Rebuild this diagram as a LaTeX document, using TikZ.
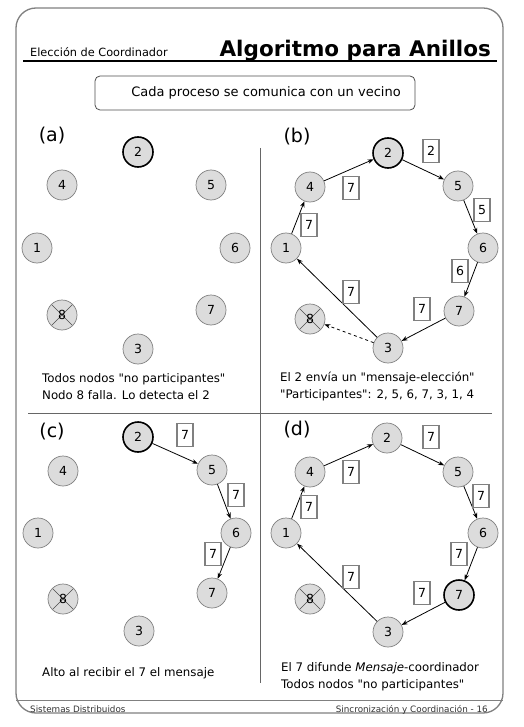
\documentclass[tikz,border=0pt]{standalone}
\usepackage{fontspec}
\setmainfont{DejaVu Sans}[Ligatures=TeXOff]
\usetikzlibrary{arrows.meta}
\definecolor{nodegray}{HTML}{DCDCDC}
\definecolor{framegray}{HTML}{808080}
\tikzset{
  proc/.style={circle, fill=nodegray, draw=framegray, line width=0.7pt, minimum size=30pt, inner sep=0pt, font=\fontsize{12.5}{12.5}\selectfont},
  lead/.style={proc, draw=black, line width=1.6pt},
  dead/.style={proc, path picture={\draw[black!70, line width=0.6pt]
      (path picture bounding box.north west) -- (path picture bounding box.south east)
      (path picture bounding box.north east) -- (path picture bounding box.south west);}},
  msg/.style={draw=framegray, line width=1.3pt, fill=white, minimum width=16pt, minimum height=23pt, inner sep=0pt, font=\fontsize{12.5}{12.5}\selectfont},
  link/.style={-{Stealth[length=6pt,width=4.5pt]}, line width=0.8pt},
  panellabel/.style={font=\fontsize{19}{19}\selectfont},
  caption/.style={anchor=west, font=\fontsize{11.8}{11.8}\selectfont, inner sep=0pt},
}
\begin{document}
\begin{tikzpicture}[x=1pt,y=-1pt]
\useasboundingbox (0,0) rectangle (523,727);
% frame
\draw[framegray, line width=1.3pt, rounded corners=20pt] (16,8) rectangle (503,713);
\draw[black, line width=1.3pt] (23,61) -- (497,61);
\draw[framegray, line width=1pt] (16,700) -- (503,700);
\node[anchor=base west, inner sep=0pt, font=\fontsize{11.3}{11.3}\selectfont] (hdr) at (30,57) {Elección de Coordinador};
\node[anchor=base east, inner sep=0pt, font=\fontsize{21.5}{21.5}\selectfont\bfseries] (title) at (491,57) {Algoritmo para Anillos};
\node[draw=black!70, line width=0.8pt, rounded corners=5pt, minimum width=320pt, minimum height=34pt, font=\fontsize{13}{13}\selectfont] (sub) at (255,93) {\hspace*{22pt}Cada proceso se comunica con un vecino};
\node[anchor=base west, inner sep=0pt, font=\fontsize{8.8}{8.8}\selectfont, text=black!80] (fl) at (30,712) {Sistemas Distribuidos};
\node[anchor=base east, inner sep=0pt, font=\fontsize{8.8}{8.8}\selectfont, text=black!80] (fr) at (488,712) {Sincronización y Coordinación - 16};
% dividers
\draw[black!60, line width=0.8pt] (260,148) -- (260,683);
\draw[black!60, line width=0.8pt] (28,413) -- (492,413);

% ---------- panel (a)
\node[panellabel] (la) at (52,136) {(a)};
\node[lead] (a2) at (138,152) {2};
\node[proc] (a4) at (62,185) {4};
\node[proc] (a5) at (211,185) {5};
\node[proc] (a1) at (37,248) {1};
\node[proc] (a6) at (235,248) {6};
\node[dead] (a8) at (62,315) {8};
\node[proc] (a7) at (211,310) {7};
\node[proc] (a3) at (138,349) {3};
\node[caption] (ta1) at (42,379) {Todos nodos "no participantes"};
\node[caption] (ta2) at (42,395) {Nodo 8 falla. Lo detecta el 2};

% ---------- panel (b)
\node[panellabel] (lb) at (297,137) {(b)};
\node[lead] (b2) at (388,153) {2};
\node[proc] (b4) at (310,187) {4};
\node[proc] (b5) at (458,186) {5};
\node[proc] (b1) at (286,248) {1};
\node[proc] (b6) at (483,248) {6};
\node[dead] (b8) at (310,319) {8};
\node[proc] (b7) at (459,311) {7};
\node[proc] (b3) at (388,348) {3};
\draw[link] (b4) -- (b2);
\draw[link] (b2) -- (b5);
\draw[link] (b5) -- (b6);
\draw[link] (b6) -- (b7);
\draw[link] (b7) -- (b3);
\draw[link] (b3) -- (b1);
\draw[link] (b1) -- (b4);
\draw[link, dashed] (b3) -- (b8);
\node[msg] (mb1) at (431,151) {2};
\node[msg] (mb2) at (351,188) {7};
\node[msg] (mb3) at (482,210) {5};
\node[msg] (mb4) at (309,225) {7};
\node[msg] (mb5) at (460,271) {6};
\node[msg] (mb6) at (351,292) {7};
\node[msg] (mb7) at (422,309) {7};
\node[caption] (tb1) at (280,378) {El 2 envía un "mensaje-elección"};
\node[caption] (tb2) at (280,395) {"Participantes": 2, 5, 6, 7, 3, 1, 4};

% ---------- panel (c)
\node[panellabel] (lc) at (52,432) {(c)};
\node[lead] (c2) at (138,437) {2};
\node[proc] (c4) at (63,471) {4};
\node[proc] (c5) at (212,470) {5};
\node[proc] (c1) at (38,533) {1};
\node[proc] (c6) at (236,533) {6};
\node[dead] (c8) at (63,599) {8};
\node[proc] (c7) at (212,593) {7};
\node[proc] (c3) at (139,631) {3};
\draw[link] (c2) -- (c5);
\draw[link] (c5) -- (c6);
\draw[link] (c6) -- (c7);
\node[msg] (mc1) at (185,435) {7};
\node[msg] (mc2) at (236,495) {7};
\node[msg] (mc3) at (213,554) {7};
\node[caption] (tc1) at (42,673) {Alto al recibir el 7 el mensaje};

% ---------- panel (d)
\node[panellabel] (ld) at (297,430) {(d)};
\node[proc] (d2) at (387,438) {2};
\node[proc] (d4) at (310,472) {4};
\node[proc] (d5) at (458,472) {5};
\node[proc] (d1) at (286,533) {1};
\node[proc] (d6) at (483,533) {6};
\node[dead] (d8) at (310,599) {8};
\node[lead] (d7) at (459,595) {7};
\node[proc] (d3) at (388,632) {3};
\draw[link] (d4) -- (d2);
\draw[link] (d2) -- (d5);
\draw[link] (d5) -- (d6);
\draw[link] (d6) -- (d7);
\draw[link] (d7) -- (d3);
\draw[link] (d3) -- (d1);
\draw[link] (d1) -- (d4);
\node[msg] (md1) at (431,437) {7};
\node[msg] (md2) at (351,472) {7};
\node[msg] (md3) at (481,496) {7};
\node[msg] (md4) at (309,507) {7};
\node[msg] (md5) at (459,554) {7};
\node[msg] (md6) at (351,577) {7};
\node[msg] (md7) at (422,593) {7};
\node[caption] (td1) at (281,668) {El 7 difunde \textit{Mensaje}-coordinador};
\node[caption] (td2) at (281,685) {Todos nodos "no participantes"};
\end{tikzpicture}
\end{document}
